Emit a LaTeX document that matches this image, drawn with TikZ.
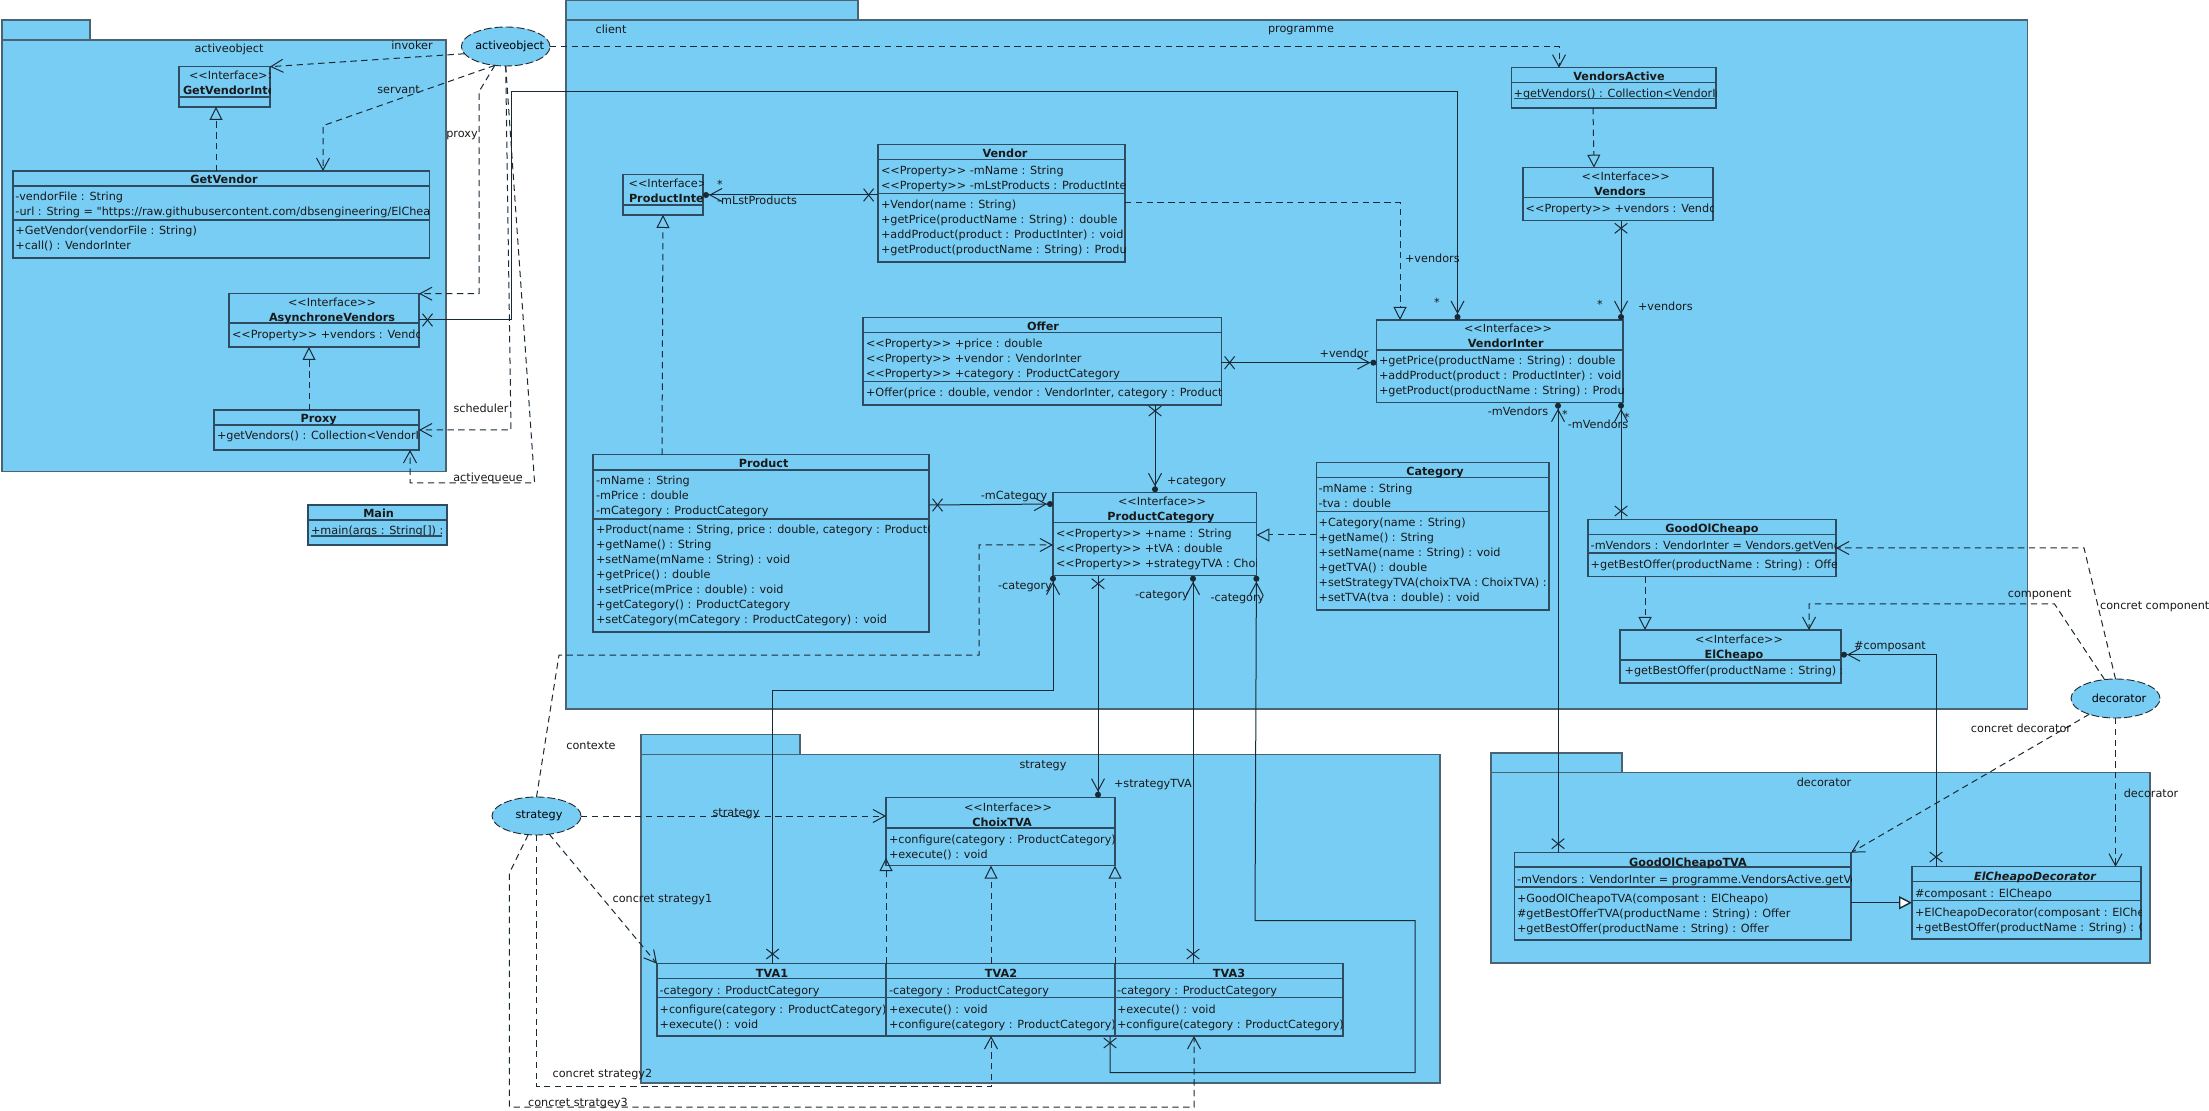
\documentclass[tikz,border=0pt]{standalone}
\usepackage{fontspec}
\usetikzlibrary{arrows.meta,shapes.geometric}
\newfontfamily\umlfont{DejaVu Sans}
\definecolor{umlblue}{HTML}{78CDF5}
\definecolor{boxline}{HTML}{2F4B5F}
\definecolor{pkgline}{HTML}{4A6474}
\definecolor{connline}{HTML}{1A2A35}
\newcounter{tn}
\tikzset{
  x=0.5pt,y=-0.5pt,
  txt/.style={inner sep=0pt,outer sep=0pt,font=\umlfont\fontsize{5.62}{7}\selectfont,text=black!90},
  boxbase/.style={rectangle,inner sep=0pt,outer sep=0pt,anchor=north west,fill=umlblue},
  classbox/.style={boxbase,draw=boxline,line width=0.6pt},
  pkgbox/.style={boxbase,draw=pkgline,line width=0.6pt},
  usecase/.style={ellipse,inner sep=0pt,outer sep=0pt,fill=umlblue,draw=black!85,line width=0.45pt,dash pattern=on 4pt off 1.5pt,font=\umlfont\fontsize{5.62}{7}\selectfont},
  sepline/.style={draw=boxline,line width=0.6pt},
  conn/.style={draw=connline,line width=0.5pt},
  dashline/.style={conn,dash pattern=on 3.2pt off 2.2pt},
  dep/.style={dashline,-{Straight Barb[length=6pt,width=6.5pt]}},
  real/.style={dashline,-{Triangle[open,length=6.5pt,width=6.5pt]}},
  assoc/.style={conn,-{Straight Barb[length=6pt,width=6.5pt]Circle[length=3pt]}},
  gen/.style={conn,line width=0.7pt,-{Triangle[fill=white,length=6.5pt,width=6.5pt]}}
}
\newcommand\rnode[6]{%
  \pgfmathsetmacro\bxw{(#5-#3)*0.5}\pgfmathsetmacro\bxh{(#6-#4)*0.5}%
  \node[#1,minimum width=\bxw pt,minimum height=\bxh pt] (#2) at (#3,#4) {};}
\newcommand\umlbox[6]{%
  \rnode{classbox}{#1}{#2}{#3}{#4}{#5}%
  \begin{scope}\clip (#1.south west) rectangle (#1.north east);#6\end{scope}}
\newcommand\pkg[7]{%
  \rnode{pkgbox}{#1tab}{#2}{#3}{#4}{#5}%
  \rnode{pkgbox}{#1}{#2}{#5}{#6}{#7}}
\newcommand\tl[3]{\stepcounter{tn}\node[txt,anchor=base west] (t\arabic{tn}) at (#1,#2+5) {#3};}
\newcommand\tc[3]{\stepcounter{tn}\node[txt,anchor=base] (t\arabic{tn}) at (#1,#2+5) {#3};}
\newcommand\tb[3]{\tc{#1}{#2}{\bfseries #3}}
\newcommand\sepl[2]{\draw[sepline] (#1.west |- 0,#2) -- (#1.east |- 0,#2);}
\newcommand\xh[2]{\draw[conn] (#1-5,#2-6.3) -- (#1+5,#2+6.3) (#1-5,#2+6.3) -- (#1+5,#2-6.3);}
\newcommand\xv[2]{\draw[conn] (#1-6.3,#2-5) -- (#1+6.3,#2+5) (#1-6.3,#2+5) -- (#1+6.3,#2-5);}
\begin{document}
\begin{tikzpicture}
\useasboundingbox (0,0) rectangle (2209,1111);
% packages
\pkg{pkgActive}{2}{20}{90}{40}{446}{471.5}
\pkg{pkgClient}{566}{0.5}{858}{20}{2027.5}{709}
\pkg{pkgStrategy}{641}{734.7}{800}{754.7}{1440}{1083}
\pkg{pkgDecorator}{1491}{753}{1622}{772.7}{2150}{963}
% ellipses
\node[usecase,minimum width=44.3pt,minimum height=19.5pt] (ao) at (505.7,46.5) {\makebox[0pt]{\hspace{4pt}activeobject}};
\node[usecase,minimum width=44.5pt,minimum height=19pt] (st) at (536.5,816) {\makebox[0pt]{\hspace{2.5pt}strategy}};
\node[usecase,minimum width=44.5pt,minimum height=19.5pt] (dc) at (2115.5,698.5) {\makebox[0pt]{\hspace{3.5pt}decorator}};
% classes: activeobject
\umlbox{GetVendorInter}{179}{66.7}{270}{107}{\sepl{GetVendorInter}{97}
  \tl{189}{75}{<<Interface>>}\tl{183}{90}{\bfseries GetVendorInter}}
\umlbox{GetVendor}{13}{171}{429.3}{258}{\sepl{GetVendor}{186}\sepl{GetVendor}{220}
  \tb{224}{179}{GetVendor}
  \tl{15.5}{196}{-vendorFile : String}
  \tl{15.5}{211}{-url : String = "https://raw.githubusercontent.com/dbsengineering/ElCheapo}
  \tl{15.5}{230}{+GetVendor(vendorFile : String)}
  \tl{15.5}{245}{+call() : VendorInter}}
\umlbox{AsynchroneVendors}{229}{293.7}{419}{347}{\sepl{AsynchroneVendors}{323}
  \tc{332}{302}{<<Interface>>}\tb{332}{317}{AsynchroneVendors}
  \tl{232}{334}{<<Property>> +vendors : Vendors}}
\umlbox{Proxy}{214}{410}{419}{450}{\sepl{Proxy}{425}
  \tb{318.6}{418}{Proxy}\tl{217}{435}{+getVendors() : Collection<VendorInter>}}
\umlbox{Main}{308}{505}{447}{545}{\sepl{Main}{520}
  \tb{378.6}{513}{Main}\tl{311}{530}{+main(args : String[]) : void}
  \draw[sepline] (311,536) -- (442,536);}
% classes: client
\umlbox{ProductInter}{623}{174.7}{703}{215}{\sepl{ProductInter}{205}
  \tl{628.6}{183}{<<Interface>>}\tl{629}{198}{\bfseries ProductInter}}
\umlbox{Vendor}{878}{144.7}{1125}{262}{\sepl{Vendor}{159.7}\sepl{Vendor}{193.7}
  \tb{1005}{153}{Vendor}
  \tl{881}{170}{<<Property>> -mName : String}
  \tl{881}{185}{<<Property>> -mLstProducts : ProductInter}
  \tl{881}{204}{+Vendor(name : String)}
  \tl{881}{219}{+getPrice(productName : String) : double}
  \tl{881}{234}{+addProduct(product : ProductInter) : void}
  \tl{881}{249}{+getProduct(productName : String) : ProductInter}}
\umlbox{VendorsActive}{1511.4}{67.7}{1716}{108}{\sepl{VendorsActive}{82.3}
  \tb{1619}{76}{VendorsActive}
  \tl{1513.6}{93}{+getVendors() : Collection<VendorInter>}
  \draw[sepline] (1513.6,98.7) -- (1716,98.7);}
\umlbox{Vendors}{1523}{167.7}{1713}{220.7}{\sepl{Vendors}{197.7}
  \tc{1625.7}{176}{<<Interface>>}\tb{1620}{191}{Vendors}
  \tl{1525.7}{208}{<<Property>> +vendors : Vendors}}
\umlbox{VendorInter}{1376.4}{320}{1623}{402.7}{\sepl{VendorInter}{350}
  \tc{1508}{328}{<<Interface>>}\tb{1505.7}{343}{VendorInter}
  \tl{1379}{360}{+getPrice(productName : String) : double}
  \tl{1379}{375}{+addProduct(product : ProductInter) : void}
  \tl{1379}{390}{+getProduct(productName : String) : ProductInter}}
\umlbox{Offer}{863}{317.7}{1221.4}{405}{\sepl{Offer}{332.7}\sepl{Offer}{381.7}
  \tb{1043}{326}{Offer}
  \tl{866}{343}{<<Property>> +price : double}
  \tl{866}{358}{<<Property>> +vendor : VendorInter}
  \tl{866}{373}{<<Property>> +category : ProductCategory}
  \tl{866}{392}{+Offer(price : double, vendor : VendorInter, category : ProductCategory)}}
\umlbox{Product}{593}{454.7}{929}{632}{\sepl{Product}{470}\sepl{Product}{519}
  \tb{763.6}{463}{Product}
  \tl{596}{480}{-mName : String}
  \tl{596}{495}{-mPrice : double}
  \tl{596}{510}{-mCategory : ProductCategory}
  \tl{596}{529}{+Product(name : String, price : double, category : ProductCategory)}
  \tl{596}{544}{+getName() : String}
  \tl{596}{559}{+setName(mName : String) : void}
  \tl{596}{574}{+getPrice() : double}
  \tl{596}{589}{+setPrice(mPrice : double) : void}
  \tl{596}{604}{+getCategory() : ProductCategory}
  \tl{596}{619}{+setCategory(mCategory : ProductCategory) : void}}
\umlbox{ProductCategory}{1053}{492.3}{1256.4}{575.7}{\sepl{ProductCategory}{522.7}
  \tc{1162}{501}{<<Interface>>}\tb{1161}{516}{ProductCategory}
  \tl{1056}{533}{<<Property>> +name : String}
  \tl{1056}{548}{<<Property>> +tVA : double}
  \tl{1056}{563}{<<Property>> +strategyTVA : ChoixTVA}}
\umlbox{Category}{1316.4}{462.7}{1549}{610}{\sepl{Category}{477.7}\sepl{Category}{511.7}
  \tb{1435}{471}{Category}
  \tl{1318.6}{488}{-mName : String}
  \tl{1318.6}{503}{-tva : double}
  \tl{1318.6}{522}{+Category(name : String)}
  \tl{1318.6}{537}{+getName() : String}
  \tl{1318.6}{552}{+setName(name : String) : void}
  \tl{1318.6}{567}{+getTVA() : double}
  \tl{1318.6}{582}{+setStrategyTVA(choixTVA : ChoixTVA) : void}
  \tl{1318.6}{597}{+setTVA(tva : double) : void}}
\umlbox{GoodOlCheapo}{1588}{519.7}{1836}{576.7}{\sepl{GoodOlCheapo}{534.5}\sepl{GoodOlCheapo}{553}
  \tb{1712}{528}{GoodOlCheapo}
  \tl{1590.7}{545}{-mVendors : VendorInter = Vendors.getVendors()}
  \tl{1590.7}{564}{+getBestOffer(productName : String) : Offer}}
\umlbox{ElCheapo}{1620}{630}{1841}{683}{\sepl{ElCheapo}{660}
  \tc{1739}{638}{<<Interface>>}\tb{1734}{653}{ElCheapo}
  \tl{1624.6}{670}{+getBestOffer(productName : String) : Offer}}
% classes: strategy
\umlbox{ChoixTVA}{886}{797.7}{1115}{865.7}{\sepl{ChoixTVA}{828}
  \tc{1008}{806}{<<Interface>>}\tb{1002}{821}{ChoixTVA}
  \tl{889}{838}{+configure(category : ProductCategory) : void}
  \tl{889}{853}{+execute() : void}}
\umlbox{TVAone}{657}{963.7}{886}{1036}{\sepl{TVAone}{978.7}\sepl{TVAone}{997.7}
  \tb{772}{972}{TVA1}
  \tl{659.6}{989}{-category : ProductCategory}
  \tl{659.6}{1008}{+configure(category : ProductCategory) : void}
  \tl{659.6}{1023}{+execute() : void}}
\umlbox{TVAtwo}{886}{963.7}{1115}{1036}{\sepl{TVAtwo}{978.7}\sepl{TVAtwo}{997.7}
  \tb{1001}{972}{TVA2}
  \tl{889}{989}{-category : ProductCategory}
  \tl{889}{1008}{+execute() : void}
  \tl{889}{1023}{+configure(category : ProductCategory) : void}}
\umlbox{TVAthree}{1115}{963.7}{1343}{1036}{\sepl{TVAthree}{978.7}\sepl{TVAthree}{997.7}
  \tb{1229}{972}{TVA3}
  \tl{1117}{989}{-category : ProductCategory}
  \tl{1117}{1008}{+execute() : void}
  \tl{1117}{1023}{+configure(category : ProductCategory) : void}}
% classes: decorator
\umlbox{GoodOlCheapoTVA}{1514.4}{852.7}{1851}{940}{\sepl{GoodOlCheapoTVA}{867}\sepl{GoodOlCheapoTVA}{887}
  \tb{1688}{861}{GoodOlCheapoTVA}
  \tl{1517}{878}{-mVendors : VendorInter = programme.VendorsActive.getVendors()}
  \tl{1517}{897}{+GoodOlCheapoTVA(composant : ElCheapo)}
  \tl{1517}{912}{\#getBestOfferTVA(productName : String) : Offer}
  \tl{1517}{927}{+getBestOffer(productName : String) : Offer}}
\umlbox{ElCheapoDecorator}{1912}{866.7}{2141}{939}{\sepl{ElCheapoDecorator}{881.7}\sepl{ElCheapoDecorator}{900.7}
  \tc{2035}{875}{\bfseries\itshape ElCheapoDecorator}
  \tl{1915}{892}{\#composant : ElCheapo}
  \tl{1915}{911}{+ElCheapoDecorator(composant : ElCheapo)}
  \tl{1915}{926}{+getBestOffer(productName : String) : Offer}}
% connectors: realizations
\draw[real] (216,0 |- GetVendor.north) -- (216,0 |- GetVendorInter.south);
\draw[real] (309,0 |- Proxy.north) -- (309,0 |- AsynchroneVendors.south);
\draw[real] (662,0 |- Product.north) -- (663,0 |- ProductInter.south);
\draw[real] (1593,0 |- VendorsActive.south) -- (1594,0 |- Vendors.north);
\draw[real] (Vendor.east |- 0,203) -- (1400,203) -- (1400,0 |- VendorInter.north);
\draw[real] (Category.west |- 0,535) -- (ProductCategory.east |- 0,535);
\draw[real] (1645,0 |- GoodOlCheapo.south) -- (1645,0 |- ElCheapo.north);
\draw[real] (TVAone.north east) -- (886,858);
\draw[real] (991,0 |- TVAtwo.north) -- (991,0 |- ChoixTVA.south);
\draw[real] (TVAthree.north west) -- (ChoixTVA.south east);
\draw[gen] (GoodOlCheapoTVA.east |- 0,902.7) -- (ElCheapoDecorator.west |- 0,902.7);
% connectors: dependencies
\draw[dep] (ao.190) -- (GetVendorInter.north east);
\draw[dep] (ao.240) -- (323,125.7) -- (323,0 |- GetVendor.north);
\draw[dep] (ao.240) -- (479,91.7) -- (479,0 |- AsynchroneVendors.north) -- (AsynchroneVendors.north east);
\draw[dep] (ao.south) -- (511,430) -- (Proxy.east |- 0,430);
\draw[dep] (ao.south) -- (534.6,483) -- (410,483) -- (410,0 |- Proxy.south);
\draw[dep] (ao.east) -- (1559,0 |- ao.east) -- (1559,0 |- VendorsActive.north);
\draw[dep] (st.north) -- (559,655) -- (979,655) -- (979,545) -- (ProductCategory.west |- 0,545);
\draw[dep] (st.east) -- (ChoixTVA.west |- st.east);
\draw[dep] (st.305) -- (TVAone.north west);
\draw[dep] (st.south) -- (536.5,1086.7) -- (991,1086.7) -- (991,0 |- TVAtwo.south);
\draw[dep] (st.246) -- (509.4,873) -- (509.4,1107) -- (1194,1107) -- (1194,0 |- TVAthree.south);
\draw[dep] (dc.north) -- (2084,548) -- (GoodOlCheapo.east |- 0,548);
\draw[dep] (dc.120) -- (2054.5,604) -- (1809,604) -- (1809,0 |- ElCheapo.north);
\draw[dep] (dc.211) -- (GoodOlCheapoTVA.north east);
\draw[dep] (dc.south) -- (dc.south |- ElCheapoDecorator.north);
% connectors: associations
\draw[assoc] (AsynchroneVendors.east |- 0,320) -- (511,320) -- (511,91.7) -- (1457.5,91.7) -- (1457.5,0 |- VendorInter.north);
\xh{427.5}{320}
\draw[assoc] (Vendor.west |- 0,195) -- (ProductInter.east |- 0,195);
\xh{868.6}{195}
\draw[assoc] (1621,0 |- Vendors.south) -- (1621,0 |- VendorInter.north);
\xv{1621}{228.3}
\draw[assoc] (Offer.east |- 0,362.7) -- (VendorInter.west |- 0,362.7);
\xh{1229.6}{362.7}
\draw[assoc] (1155,0 |- Offer.south) -- (1155,0 |- ProductCategory.north);
\xv{1155}{411}
\draw[assoc] (Product.east |- 0,505) -- (ProductCategory.west |- 0,504);
\xh{937.5}{505}
\draw[assoc] (772.6,0 |- TVAone.north) -- (772.6,690.5) -- (1053,690.5) -- (ProductCategory.south west);
\xv{772.6}{954}
\draw[assoc] (1098,0 |- ProductCategory.south) -- (1098,0 |- ChoixTVA.north);
\xv{1098}{583.7}
\draw[assoc] (1193,0 |- TVAthree.north) -- (1193,0 |- ProductCategory.south);
\xv{1193}{954}
\draw[assoc] (1110,0 |- TVAtwo.south) -- (1110,1072.7) -- (1415,1072.7) -- (1415,920.7) -- (1255,920.7) -- (ProductCategory.south east);
\xv{1110}{1043}
\draw[assoc] (1621,0 |- GoodOlCheapo.north) -- (1621,0 |- VendorInter.south);
\xv{1621}{511}
\draw[assoc] (1558,0 |- GoodOlCheapoTVA.north) -- (1558,0 |- VendorInter.south);
\xv{1558}{843.7}
\draw[assoc] (1936,0 |- ElCheapoDecorator.north) -- (1936,654.7) -- (ElCheapo.east |- 0,654.7);
\xv{1936}{857}
% labels
\tc{229}{48}{activeobject}
\tc{611}{29}{client}
\tc{1301}{28}{programme}
\tc{1043}{763}{strategy}
\tc{1824}{781}{decorator}
\tc{412}{45}{invoker}
\tc{398.6}{89}{servant}
\tc{462}{133}{proxy}
\tc{481}{408}{scheduler}
\tc{488}{477}{activequeue}
\tc{720}{184}{*}
\tl{717}{200}{-mLstProducts}
\tl{1405}{258}{+vendors}
\tc{1437}{302}{*}
\tc{1600}{304}{*}
\tl{1638}{306}{+vendors}
\tc{1344}{353}{+vendor}
\tl{1167}{480}{+category}
\tc{1014}{495}{-mCategory}
\tc{1025}{584}{-category}
\tc{1162}{593}{-category}
\tc{1237.5}{597}{-category}
\tc{1518}{411}{-mVendors}
\tc{1565}{414}{*}
\tc{1598}{424}{-mVendors}
\tc{1627}{417}{*}
\tl{1114}{782.7}{+strategyTVA}
\tc{591}{744}{contexte}
\tc{736}{811}{strategy}
\tc{662.4}{897}{concret strategy1}
\tc{602.4}{1072}{concret strategy2}
\tc{578}{1101}{concret stratgey3}
\tc{1890}{644}{\#composant}
\tc{2154.7}{605}{concret component}
\tc{2039.6}{592}{component}
\tc{2021}{727}{concret decorator}
\tc{2151}{792}{decorator}
\end{tikzpicture}
\end{document}
